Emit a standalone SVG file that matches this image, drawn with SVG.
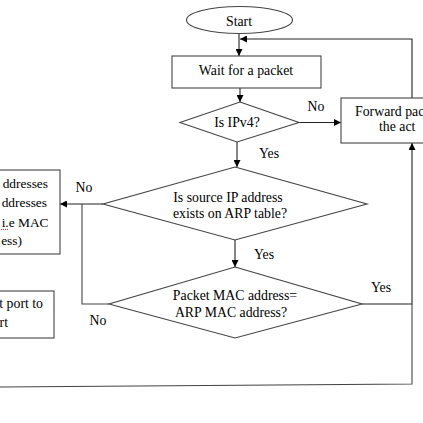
<svg xmlns="http://www.w3.org/2000/svg" width="423" height="423" viewBox="0 0 423 423">
<defs>
<marker id="arr" viewBox="0 0 10 10" refX="10" refY="5" markerWidth="8" markerHeight="7" markerUnits="userSpaceOnUse" orient="auto">
<path d="M0,0 L10,5 L0,10 z" fill="#000"/>
</marker>
<style>
.shape{fill:#fff;stroke:#444;stroke-width:1.1}
.line{fill:none;stroke:#444;stroke-width:1.1}
.arrow{fill:none;stroke:#222;stroke-width:1.1;marker-end:url(#arr)}
text{font-family:"Liberation Serif","Times New Roman",serif;font-size:13.8px;fill:#000}
.c{text-anchor:middle}
.e{text-anchor:end}
.s{font-size:13.4px}
</style>
</defs>
<rect width="423" height="423" fill="#fff"/>
<g id="connectors">
<path class="arrow" d="M239,33.5 V56"/>
<path class="arrow" d="M412,98 V39 H240"/>
<path class="arrow" d="M240,88 V102"/>
<path class="arrow" d="M299,122.5 H341"/>
<path class="arrow" d="M237,142 V167"/>
<path class="arrow" d="M103,204 H60"/>
<path class="arrow" d="M235,240 V267"/>
<path class="line" d="M109,304 H82 V204"/>
<path class="arrow" d="M362,304 H412 V143"/>
<path class="line" d="M0,387 L412,384 V304"/>
<text class="c" x="316" y="111">No</text>
<text class="c" x="269" y="158">Yes</text>
<text class="c" x="84" y="192">No</text>
<text class="c" x="264" y="259">Yes</text>
<text class="c" x="381" y="292">Yes</text>
<text class="c" x="98" y="325">No</text>
</g>
<g id="start">
<ellipse class="shape" cx="239.5" cy="20" rx="53" ry="13.5"/>
<text class="c" x="239" y="26">Start</text>
</g>
<g id="wait">
<rect class="shape" x="172" y="56" width="149" height="32"/>
<text class="c" x="246" y="75">Wait for a packet</text>
</g>
<g id="isipv4">
<polygon class="shape" points="240,102 299,122.5 237,142 180,122.5"/>
<text class="c" x="237" y="127">Is IPv4?</text>
</g>
<g id="forward">
<rect class="shape" x="341" y="98" width="90" height="45"/>
<text x="355" y="116">Forward pac</text>
<text x="379" y="131">the act</text>
</g>
<g id="source-ip">
<polygon class="shape" points="235,167 367,204 235,240 103,204"/>
<text class="c" x="228" y="202">Is source IP address</text>
<text class="c" x="230" y="218">exists on ARP table?</text>
</g>
<g id="mac-check">
<polygon class="shape" points="235,267 362,304 235,338 109,304"/>
<text class="c" x="235" y="300">Packet MAC address=</text>
<text class="c" x="231" y="317">ARP MAC address?</text>
</g>
<g id="update">
<rect class="shape" x="-2" y="170" width="62" height="84"/>
<text class="e s" x="48" y="188">ddresses</text>
<text class="e s" x="47" y="207">ddresses</text>
<text class="e s" x="48.5" y="227">i.e MAC</text>
<path d="M1,229.5 H8" stroke="#d33" stroke-width="1" stroke-dasharray="1,1"/>
<text class="e s" x="22" y="245">ess)</text>
</g>
<g id="port">
<rect class="shape" x="-2" y="291" width="56" height="47"/>
<text class="e" x="43" y="308">t port to</text>
<text class="e" x="8" y="327">rt</text>
</g>
</svg>
